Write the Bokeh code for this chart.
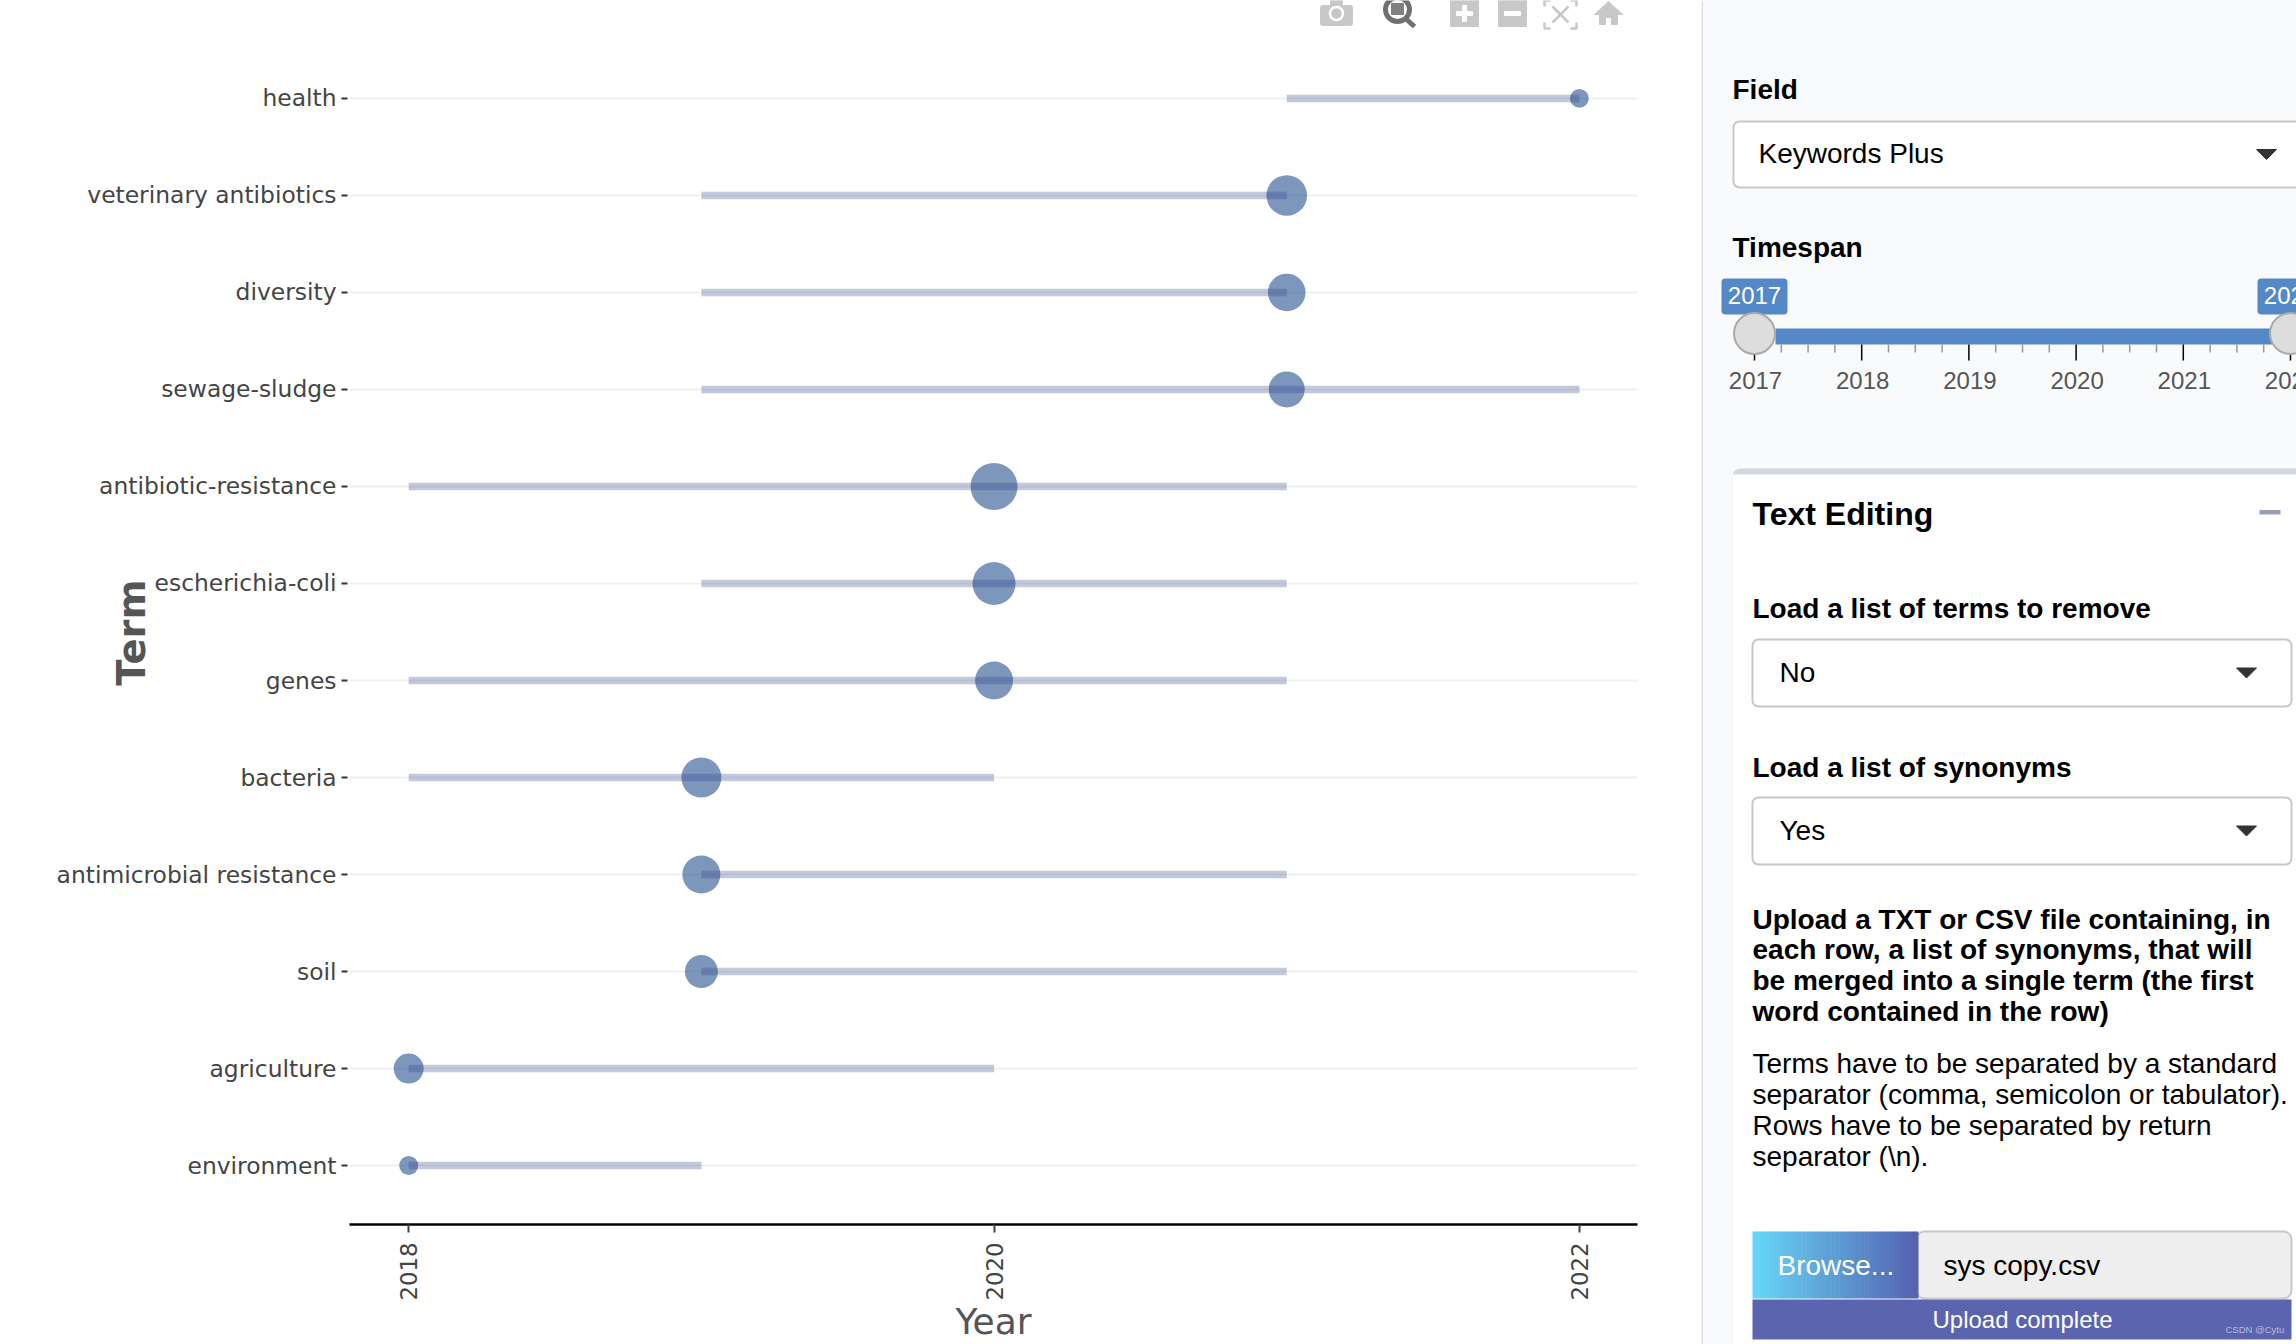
from math import pi

from bokeh.core.properties import value
from bokeh.embed import file_html
from bokeh.layouts import column, row
from bokeh.models import FixedTicker, Range1d
from bokeh.plotting import figure
from bokeh.resources import INLINE

# top to bottom in the picture
terms = ["health", "veterinary antibiotics", "diversity", "sewage-sludge",
         "antibiotic-resistance", "escherichia-coli", "genes", "bacteria",
         "antimicrobial resistance", "soil", "agriculture", "environment"]
year_q1 = [2021, 2019, 2019, 2019, 2018, 2019, 2018, 2018, 2019, 2019, 2018, 2018]
year_q3 = [2022, 2021, 2021, 2022, 2021, 2021, 2021, 2020, 2021, 2021, 2020, 2019]
year_median = [2022, 2021, 2021, 2021, 2020, 2020, 2020, 2019, 2019, 2019, 2018, 2018]
# relative term frequency, read from the bubble diameters
freq = [9.4, 20.3, 18.8, 18, 23.5, 21.5, 19, 20, 19, 16.5, 15, 9.5]
year_ticks = [2018, 2020, 2022]

slider_years = [2017, 2018, 2019, 2020, 2021, 2022]
bold_lines = ["Upload a TXT or CSV file containing, in",
              "each row, a list of synonyms, that will",
              "be merged into a single term (the first",
              "word contained in the row)"]
plain_lines = ["Terms have to be separated by a standard",
               "separator (comma, semicolon or tabulator).",
               "Rows have to be separated by return",
               "separator (\\n)."]

SANS = "Liberation Sans"
PLOT_FONT = "DejaVu Sans"
BLUE = "#5588c7"
GREY_ICON = "#c8c8c8"

# strip above the chart with the modebar icons, in page coordinates
t = figure(width=1701, height=40, output_backend="svg", toolbar_location=None,
           x_range=Range1d(0, 1701), y_range=Range1d(40, 0),
           x_axis_type=None, y_axis_type=None, min_border=0)
t.frame_align = False
t.grid.visible = False
t.outline_line_color = None

t.quad(left=[1320], right=[1352], top=[5], bottom=[25], color=GREY_ICON, border_radius=2)
t.quad(left=[1330], right=[1342], top=[0], bottom=[6], color=GREY_ICON)
t.scatter([1336], [13], size=13, fill_color=GREY_ICON, line_color="#ffffff", line_width=2.5)
t.scatter([1397], [9], size=24, fill_color="#ffffff", line_color="#707070", line_width=5)
t.quad(left=[1391], right=[1403], top=[3], bottom=[14], color="#808080")
t.line([1405, 1414], [18, 26], line_color="#707070", line_width=5)
t.quad(left=[1450, 1498], right=[1478, 1526], top=[0, 0], bottom=[26, 26], color=GREY_ICON)
t.quad(left=[1456, 1462, 1504], right=[1472, 1466, 1520], top=[11, 5, 11], bottom=[15, 21, 15],
       color="#ffffff")
t.multi_line([[1544, 1544, 1550], [1570, 1576, 1576], [1544, 1544, 1550], [1570, 1576, 1576],
              [1552, 1568], [1568, 1552]],
             [[6, 0, 0], [0, 0, 6], [22, 28, 28], [28, 28, 22], [6, 22], [6, 22]],
             line_color=GREY_ICON, line_width=2.5)
t.patch([1594, 1608, 1622, 1617, 1617, 1611, 1611, 1605, 1605, 1599, 1599],
        [14, 1, 14, 14, 24, 24, 17, 17, 24, 24, 14], color=GREY_ICON)

# chart: page coordinates of the frame are 349..1637 and 40..1225
rank = [len(terms) - 1 - i for i in range(len(terms))]
p = figure(width=1701, height=1304, output_backend="svg", toolbar_location=None,
           x_range=Range1d(2018 - 59.2 / 292.7, 2022 + 58.1 / 292.7),
           y_range=Range1d(-59 / 97.09, 11 + 58 / 97.09),
           min_border_left=349, min_border_right=64, min_border_top=0, min_border_bottom=119)
p.frame_align = False
p.outline_line_color = None
p.xgrid.grid_line_color = None
p.ygrid.grid_line_color = "#f0f0f0"
p.ygrid.grid_line_width = 2

p.scatter(year_median, rank, size=[f * 2 for f in freq], color="#26508f", alpha=0.6, line_width=0)
p.segment(year_q1, rank, year_q3, rank, line_color="#2a3c88", line_alpha=0.28, line_width=7.5)

p.xaxis.ticker = FixedTicker(ticks=year_ticks)
p.xaxis.major_label_orientation = pi / 2
p.xaxis.major_label_text_font = PLOT_FONT
p.xaxis.major_label_text_font_size = "22.8px"
p.xaxis.major_label_text_color = "#444444"
p.xaxis.major_label_standoff = 10
p.xaxis.major_tick_in = 0
p.xaxis.major_tick_out = 8
p.xaxis.major_tick_line_color = "#444444"
p.xaxis.major_tick_line_width = 2
p.xaxis.minor_tick_line_color = None
p.xaxis.axis_line_color = "#000000"
p.xaxis.axis_line_width = 2.5
p.xaxis.axis_label = "Year"
p.xaxis.axis_label_text_font = PLOT_FONT
p.xaxis.axis_label_text_font_size = "36px"
p.xaxis.axis_label_text_font_style = "normal"
p.xaxis.axis_label_text_color = "#555555"
p.xaxis.axis_label_standoff = -3

p.yaxis.ticker = FixedTicker(ticks=rank)
p.yaxis.major_label_overrides = dict(zip(rank, terms))
p.yaxis.major_label_text_font = PLOT_FONT
p.yaxis.major_label_text_font_size = "23.4px"
p.yaxis.major_label_text_color = "#444444"
p.yaxis.major_label_standoff = 5
p.yaxis.major_tick_in = -2
p.yaxis.major_tick_out = 8
p.yaxis.major_tick_line_color = "#333333"
p.yaxis.major_tick_line_width = 2
p.yaxis.minor_tick_line_color = None
p.yaxis.axis_line_color = None
p.yaxis.axis_label = "Term"
p.yaxis.axis_label_text_font = PLOT_FONT
p.yaxis.axis_label_text_font_size = "38.5px"
p.yaxis.axis_label_text_font_style = "bold"
p.yaxis.axis_label_text_color = "#555555"
p.yaxis.axis_label_standoff = -100


# sidebar, drawn in page coordinates
s = figure(width=595, height=1344, output_backend="svg", toolbar_location=None,
           x_range=Range1d(1701, 2296), y_range=Range1d(1344, 0),
           x_axis_type=None, y_axis_type=None, min_border=0)
s.frame_align = False
s.grid.visible = False
s.outline_line_color = None
s.background_fill_color = "#f9fafc"
s.border_fill_color = "#f9fafc"


def put_text(x, y, text, size, color="#000000", bold=False, align="left"):
    # Bokeh sets alphabetic text about a third of the font size too low here
    s.text([x], [y - 0.34 * size], text=[text], text_font=value(SANS), text_font_size=f"{size}px",
           text_color=color, text_font_style="bold" if bold else "normal", text_align=align,
           text_baseline="alphabetic")


def select_box(left, right, top, bottom, label, text_x, text_y, arrow_x):
    s.quad(left=[left], right=[right], top=[top], bottom=[bottom], fill_color="#ffffff",
           line_color="#c8c8c8", line_width=2, border_radius=6)
    put_text(text_x, text_y, label, 28)
    mid = (top + bottom) / 2 - 5
    s.patch([arrow_x - 10, arrow_x + 10, arrow_x], [mid, mid, mid + 10], color="#333333")


s.quad(left=[1701], right=[1702.5], top=[0], bottom=[1344], color="#d8dbe4", line_width=0)

put_text(1732, 99, "Field", 28, bold=True)
select_box(1733, 2320, 121, 187, "Keywords Plus", 1758, 163, 2266)

put_text(1732, 257, "Timespan", 28, bold=True)
s.quad(left=[1775], right=[2290], top=[328], bottom=[344], color=BLUE, line_width=0)
for i, year in enumerate(slider_years):
    tick_x = 1754 + i * 107.2
    s.segment([tick_x], [344], [tick_x], [360], line_color="#000000", line_width=1.5)
    if i < len(slider_years) - 1:
        for k in (1, 2, 3):
            minor_x = tick_x + k * 26.8
            s.segment([minor_x], [344], [minor_x], [352], line_color="#999999", line_width=1.5)
    put_text(tick_x + 1, 388, str(year), 24, color="#555555", align="center")
for handle_x, label_left, year in [(1754, 1721, slider_years[0]), (2290, 2257, slider_years[-1])]:
    s.quad(left=[label_left], right=[label_left + 66], top=[278], bottom=[314], color=BLUE,
           line_width=0, border_radius=4)
    put_text(label_left + 33, 303, str(year), 24, color="#ffffff", align="center")
    s.scatter([handle_x], [333], size=41, fill_color="#dddddd", line_color="#aaaaaa", line_width=2)

# Text Editing card
s.quad(left=[1732], right=[2320], top=[468], bottom=[1400], color="#d2d6de", line_width=0,
       border_radius=8)
s.quad(left=[1732], right=[2320], top=[474], bottom=[1400], color="#ffffff", line_width=0)
put_text(1752, 524, "Text Editing", 32, bold=True)
s.quad(left=[2259], right=[2280], top=[509.5], bottom=[514], color="#97a0b3", line_width=0)

put_text(1752, 618, "Load a list of terms to remove", 28, bold=True)
select_box(1752, 2291, 639, 706, "No", 1779, 682, 2246)
put_text(1752, 777, "Load a list of synonyms", 28, bold=True)
select_box(1752, 2291, 797, 864, "Yes", 1779, 840, 2246)

for i, line in enumerate(bold_lines):
    put_text(1752, 928.3 + i * 30.6, line, 28, bold=True)
for i, line in enumerate(plain_lines):
    put_text(1752, 1073 + i * 31, line, 28)

# upload row, the Browse button is a stepped left to right gradient
s.quad(left=[1916], right=[2291], top=[1231], bottom=[1298], fill_color="#eeeeee",
       line_color="#c8c8c8", line_width=2, border_radius=8)
steps = 40
for i in range(steps):
    c = i / (steps - 1)
    r = int(102 + c * (85 - 102))
    g = int(214 + c * (99 - 214))
    b = int(248 + c * (176 - 248))
    step_w = (1917.5 - 1752) / steps
    s.quad(left=[1752 + i * step_w], right=[1752 + (i + 1) * step_w + 0.5], top=[1231], bottom=[1298],
           color=f"#{r:02x}{g:02x}{b:02x}", line_width=0)
put_text(1777, 1275, "Browse...", 28, color="#ffffff")
put_text(1943, 1275, "sys copy.csv", 28)
s.quad(left=[1752], right=[2291], top=[1299], bottom=[1339], color="#5a64af", line_width=0)
put_text(2022, 1327, "Upload complete", 24, color="#ffffff", align="center")
put_text(2225, 1332, "CSDN @Cytu", 9.5, color="#b8bcd8")

page = row(column(t, p), s)
open("out.html", "w").write(file_html(page, INLINE))
